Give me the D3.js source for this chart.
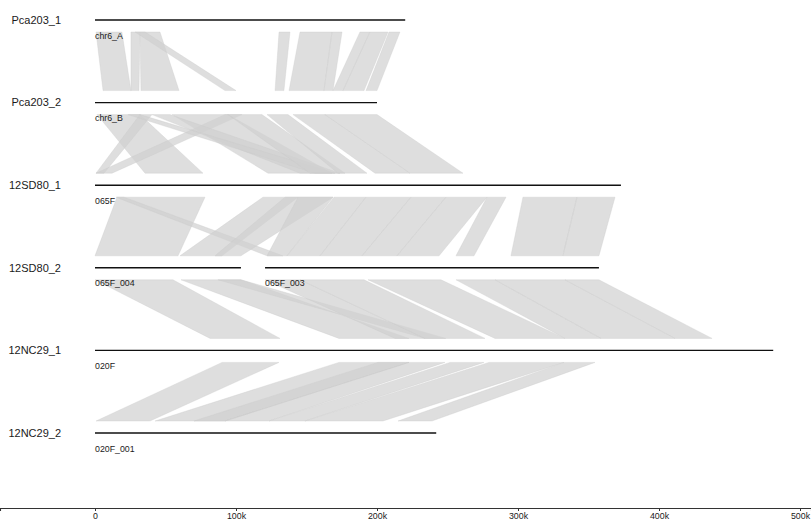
<!DOCTYPE html>
<html>
<head>
<meta charset="utf-8">
<script src="https://cdn.jsdelivr.net/npm/d3@7"></script>
<style>
	body { margin: 0; background: #fff; }
	text { font-family: 'Liberation Sans', Arial, sans-serif; }
</style>
</head>
<body>
<svg class="synteny"></svg>
<script>
const [width, height] = [811, 531]

// Genomes, top to bottom.
const genomes = ['Pca203_1', 'Pca203_2', '12SD80_1', '12SD80_2', '12NC29_1', '12NC29_2']

// Sequences (lengths in kb).
const seqIds = ['chr6_A', 'chr6_B', '065F', '065F_004', '065F_003', '020F', '020F_001']
const seqBins = ['Pca203_1', 'Pca203_2', '12SD80_1', '12SD80_2', '12SD80_2', '12NC29_1', '12NC29_2']
const seqLengths = [220, 200, 373, 103.5, 236.8, 481, 242]
const seqGap = 17.1

// Links between neighbouring genomes: [start1, end1, start2, end2] in kb.
const linksPca = [
	[0.7, 19.1, 5.7, 25.5],
	[25.5, 31.9, 25.5, 31.2],
	[31.9, 46.1, 32.6, 59.6],
	[28.4, 35.5, 92.2, 100.0],
	[130.5, 138.3, 127.7, 134.0],
	[145.4, 168.1, 137.6, 162.4],
	[168.1, 175.2, 162.4, 168.8],
	[187.9, 195.0, 168.8, 175.9],
	[195.0, 207.8, 175.9, 190.8],
	[208.5, 216.3, 192.2, 200.0],
]
const linksPcaSD = [
	[1.4, 31.9, 35.5, 76.6],
	[31.9, 40.4, 0.7, 6.4],
	[92.2, 104.3, 0.7, 12.1],
	[54.6, 94.3, 122.7, 168.1],
	[40.4, 53.2, 145.4, 173.8],
	[23.4, 31.9, 156.0, 170.2],
	[94.3, 118.4, 152.5, 177.3],
	[122.0, 136.9, 172.3, 192.9],
	[140.4, 163.1, 198.6, 223.4],
	[163.1, 200.0, 223.4, 261.0],
]
const linksSD = [
	[15.6, 78.0, 0, 58.9],
	[14.9, 20.6, 122.0, 133.3],
	[119.1, 144.0, 60.3, 90.1],
	[134.8, 168.8, 85.1, 103.5],
	[144.0, 168.8, 122.0, 136.2],
	[169.5, 192.2, 136.2, 159.6],
	[192.2, 224.1, 159.6, 189.4],
	[224.1, 248.9, 189.4, 214.2],
	[248.9, 278.0, 214.2, 244.0],
	[278.0, 291.5, 256.0, 268.8],
	[303.5, 341.8, 295.0, 331.9],
	[341.8, 368.8, 331.9, 357.4],
]
const linksSDNC = [
	[0, 55.3, 81.6, 131.2],
	[61.0, 103.5, 173.0, 222.7],
	[87.2, 103.5, 234.0, 248.9],
	[120.6, 145.4, 212.8, 234.0],
	[145.4, 190.8, 234.0, 276.6],
	[193.6, 245.4, 283.7, 333.3],
	[256.0, 283.7, 333.3, 358.9],
	[283.7, 333.3, 358.9, 411.3],
	[333.3, 357.4, 411.3, 437.6],
]
const linksNC = [
	[90.1, 130.5, 0.7, 39.0],
	[173.0, 222.7, 42.6, 92.2],
	[200.7, 222.7, 70.2, 92.2],
	[222.7, 248.2, 92.2, 123.4],
	[251.8, 275.9, 123.4, 148.9],
	[279.4, 332.6, 148.9, 204.3],
	[332.6, 354.6, 214.9, 239.0],
]
const linkSets = [linksPca, linksPcaSD, linksSD, linksSDNC, linksNC]

const tickValues = [0, 100, 200, 300, 400, 500]

const svg = d3.select('svg.synteny')
	.attr('width', width)
	.attr('height', height)
	.attr('viewBox', `0 0 ${width} ${height}`)

const x = d3.scaleLinear().domain([0, 500]).range([95, 800])
const y = d3.scalePoint().domain(genomes).range([20, 433])
const pad = 12

// Lay sequences out along each genome.
const seqs = []
const cursor = {}
seqIds.forEach((id, i) => {
	const bin = seqBins[i]
	const start = bin in cursor ? cursor[bin] + seqGap : 0
	seqs.push({ id, bin, start, end: start + seqLengths[i] })
	cursor[bin] = start + seqLengths[i]
})

// Links.
const links = []
linkSets.forEach((set, i) => {
	const y1 = y(genomes[i]) + pad
	const y2 = y(genomes[i + 1]) - pad
	set.forEach(l => links.push({ l, y1, y2 }))
})

svg.append('g')
	.selectAll('path')
		.data(links)
	.enter().append('path')
		.attr('d', d => `M${x(d.l[0])},${d.y1}L${x(d.l[1])},${d.y1}L${x(d.l[3])},${d.y2}L${x(d.l[2])},${d.y2}Z`)
		.attr('fill', '#d0d0d0')
		.attr('fill-opacity', 0.7)
		.attr('stroke', '#c8c8c8')
		.attr('stroke-opacity', 0.45)
		.attr('stroke-width', 0.7)

// Sequences.
const seqG = svg.append('g')
seqG.selectAll('line')
		.data(seqs)
	.enter().append('line')
		.attr('x1', d => x(d.start))
		.attr('x2', d => x(d.end))
		.attr('y1', d => y(d.bin))
		.attr('y2', d => y(d.bin))
		.attr('stroke', '#111')
		.attr('stroke-width', 1.4)

seqG.selectAll('text')
		.data(seqs)
	.enter().append('text')
		.attr('x', d => x(d.start))
		.attr('y', d => y(d.bin) + 18.5)
		.attr('font-size', 8.8)
		.attr('fill', '#1a1a1a')
		.text(d => d.id)

// Genome labels.
svg.append('g')
	.selectAll('text')
		.data(genomes)
	.enter().append('text')
		.attr('x', 61)
		.attr('y', d => y(d))
		.attr('dy', '0.35em')
		.attr('text-anchor', 'end')
		.attr('font-size', 11)
		.attr('fill', '#1a1a1a')
		.text(d => d)

// Axis spanning the full panel.
const xAxisScale = x.copy().domain([x.invert(0), x.invert(width)]).range([0, width])
const axis = svg.append('g')
	.attr('transform', `translate(0, 508)`)
	.call(d3.axisBottom(xAxisScale)
		.tickValues(tickValues)
		.tickSizeOuter(0)
		.tickSize(3)
		.tickPadding(2)
		.tickFormat(d => d === 0 ? '0' : `${d}k`))
axis.select('.domain').attr('stroke', '#333').attr('stroke-width', 1.1)
axis.selectAll('.tick line').attr('stroke', '#333')
axis.selectAll('.tick text')
	.attr('font-size', 8.8)
	.attr('font-family', "'Liberation Sans', Arial, sans-serif")
	.attr('fill', '#1a1a1a')
</script>
</body>
</html>
